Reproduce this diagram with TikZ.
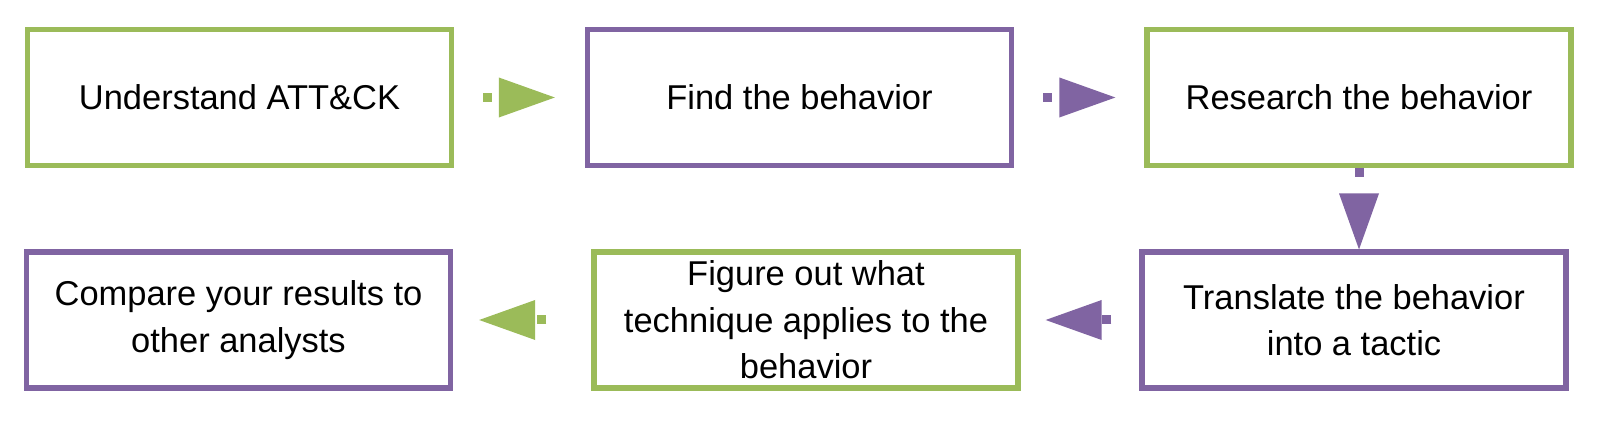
\documentclass[tikz,border=0pt]{standalone}
\usepackage{fontspec}
\setmainfont{Liberation Sans}
\usetikzlibrary{arrows.meta}
\definecolor{stepgreen}{RGB}{155,187,89}
\definecolor{steppurple}{RGB}{128,100,162}

\begin{document}
\begin{tikzpicture}[x=0.01cm,y=-0.01cm,
    stepbox/.style={draw=#1, line width=0.055cm, minimum width=4.235cm, minimum height=1.355cm,
        inner sep=0, align=center, font=\fontsize{9.8}{13.2}\selectfont},
    flow/.style={draw=#1, line width=0.09cm, dash pattern=on 0.09cm off 3cm,
        -{Triangle[length=0.56cm,width=0.40cm,line width=0pt]}}]
\useasboundingbox (0,0) rectangle (1600,422);
%steps
\node[stepbox=stepgreen] (b1) at (239.5,97.5) {Understand ATT\&CK};
\node[stepbox=steppurple] (b2) at (799.5,97.5) {Find the behavior};
\node[stepbox=stepgreen] (b3) at (1359,97.5) {Research the behavior};
\node[stepbox=steppurple] (b4) at (1354,320) {Translate the behavior\\into a tactic};
\node[stepbox=stepgreen] (b5) at (806,320) {Figure out what\\technique applies to the\\behavior};
\node[stepbox=steppurple] (b6) at (238.5,320) {Compare your results to\\other analysts};
%arrows
\foreach \a/\b/\s/\e/\col in {
    b1.east/b2.west/0.29cm/0.30cm/stepgreen,
    b2.east/b3.west/0.29cm/0.29cm/steppurple,
    b4.west/b5.east/0.28cm/0.25cm/steppurple,
    b5.west/b6.east/0.45cm/0.26cm/stepgreen%
}{
    \path[flow=\col, shorten <=\s, shorten >=\e] (\a) -- (\b);
}
\path[flow=steppurple] (b3.south) -- (b3.south |- b4.north);
\end{tikzpicture}
\end{document}
